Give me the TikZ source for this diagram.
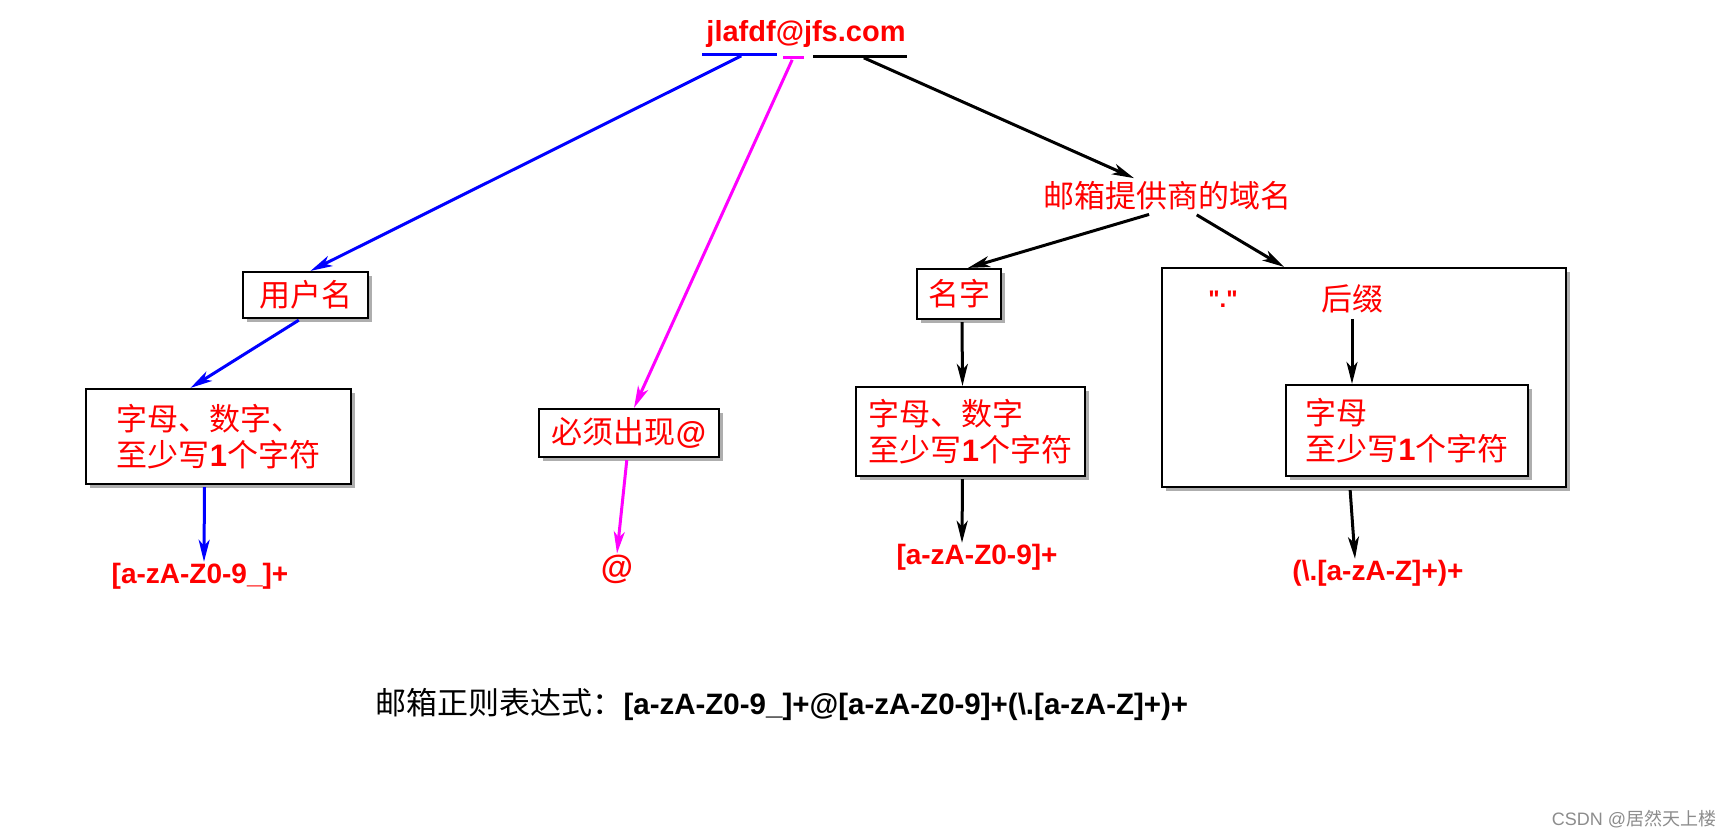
\documentclass[tikz,border=0pt]{standalone}
\usepackage{fontspec}
\setmainfont{Liberation Sans}
\newfontfamily\cjk{Noto Sans CJK SC}
\usetikzlibrary{arrows.meta,shadows}
\definecolor{mag}{RGB}{255,0,255}
\definecolor{lineblue}{RGB}{0,0,255}
\newcommand\bnum[1]{{\normalfont\bfseries #1}}

\begin{document}
\begin{tikzpicture}[x=1pt,y=-1pt,
  box/.style={draw, line width=2.2pt, fill=white, inner sep=0pt, align=left,
    drop shadow={shadow xshift=4pt,shadow yshift=-4pt,opacity=.45,fill=black!70}},
  cn/.style={font=\cjk\fontsize{31}{36}\selectfont, text=red},
  rx/.style={font=\bfseries\fontsize{28}{32}\selectfont, text=red, inner sep=1pt},
  arr/.style={-{Stealth[length=22pt,width=11pt,inset=6pt]}, line width=3pt, shorten <=2pt},
  uline/.style={line width=3pt}
]
\useasboundingbox (0,0) rectangle (1735,839);

% the address and its three parts
\node[rx,font=\bfseries\fontsize{29}{32}\selectfont] (email) at (806,34) {jlafdf@jfs.com};
\coordinate (blA) at (702,54); \coordinate (blB) at (777,54);
\coordinate (mgA) at (783,57); \coordinate (mgB) at (804,57);
\coordinate (bkA) at (813,56); \coordinate (bkB) at (907,56);
\coordinate (blS) at (743,55);
\coordinate (mgS) at (793,58);
\coordinate (bkS) at (862,57);

% user name
\node[box,cn,minimum width=125pt,minimum height=46pt] (user) at (305.5,295) {用户名};
\node[box,cn,minimum width=265pt,minimum height=95pt] (userrule) at (218.5,436.5) {字母、数字、\\至少写\bnum{1}个字符};
\node[rx] (userre) at (200,576) {[a-zA-Z0-9\_]+};

% the @ sign
\node[box,cn,minimum width=180pt,minimum height=48pt] (must) at (629,433) {必须出现\bnum{@}};
\node[rx,font=\bfseries\fontsize{33}{36}\selectfont] (atre) at (617,569) {@};

% domain
\node[cn] (domain) at (1167,196) {邮箱提供商的域名};
\node[box,cn,minimum width=84pt,minimum height=50pt] (name) at (959,294) {名字};
\node[box,cn,minimum width=229pt,minimum height=89pt] (namerule) at (970.5,431.5) {字母、数字\\至少写\bnum{1}个字符};
\node[rx] (namere) at (977,557) {[a-zA-Z0-9]+};

\node[box,minimum width=404pt,minimum height=219pt] (suffixbox) at (1364,377.5) {};
\node[rx,font=\bfseries\fontsize{24}{28}\selectfont] (dot) at (1223,299) {\textquotedbl.\textquotedbl};
\node[cn] (suffix) at (1352,299) {后缀};
\node[box,cn,minimum width=242pt,minimum height=91pt] (suffixrule) at (1407,430.5) {字母\\至少写\bnum{1}个字符};
\node[rx] (suffixre) at (1378,573) {(\textbackslash.[a-zA-Z]+)+};

% whole expression
\node[anchor=west, font=\cjk\fontsize{31}{36}\selectfont] (summary) at (372,704)
  {邮箱正则表达式：{\normalfont\bfseries\fontsize{29.5}{36}\selectfont [a-zA-Z0-9\_]+@[a-zA-Z0-9]+(\textbackslash.[a-zA-Z]+)+}};
\node[text=black!45, font=\fontsize{18}{20}\selectfont] (mark) at (1634,819) {CSDN @{\cjk 居然天上楼}};

\draw[uline,lineblue] (blA) -- (blB);
\draw[uline,mag] (mgA) -- (mgB);
\draw[uline] (bkA) -- (bkB);

\draw[arr,lineblue] (blS) -- ([xshift=5pt]user.north);
\draw[arr,lineblue] ([xshift=-5pt]user.south) -- ([xshift=-28pt]userrule.north);
\draw[arr,lineblue] ([xshift=-14pt]userrule.south) -- ([xshift=4pt]userre.north);
\draw[arr,mag] (mgS) -- ([xshift=5pt]must.north);
\draw[arr,mag] ([xshift=-2pt]must.south) -- (atre.north);
\draw[arr] (bkS) -- ([xshift=-33pt]domain.north);
\draw[arr] ([xshift=-16pt]domain.south) -- ([xshift=9pt]name.north);
\draw[arr] ([xshift=28pt]domain.south) -- ([xshift=-80pt]suffixbox.north);
\draw[arr] ([xshift=3pt]name.south) -- ([xshift=-8pt]namerule.north);
\draw[arr] ([xshift=-8pt]namerule.south) -- ([xshift=-15pt]namere.north);
\draw[arr] (suffix.south) -- (suffix.south |- suffixrule.north);
\draw[arr] ([xshift=-14pt]suffixbox.south) -- ([xshift=-23pt]suffixre.north);
\end{tikzpicture}
\end{document}
